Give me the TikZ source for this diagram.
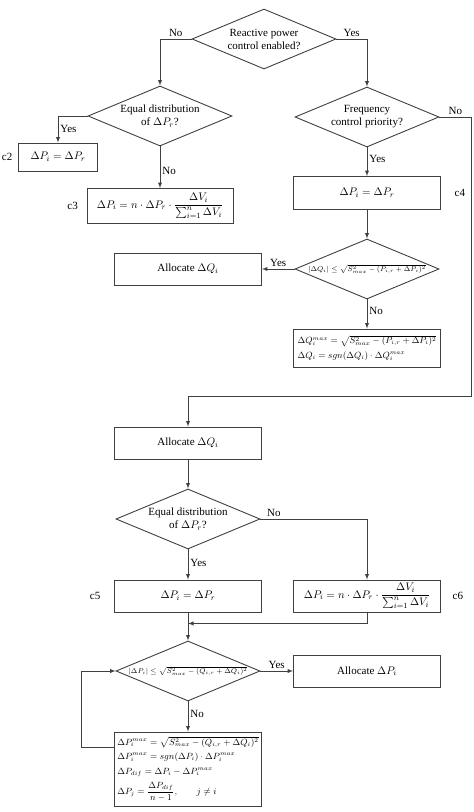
\documentclass[tikz,border=0pt]{standalone}
\usepackage{amsmath}
\usepackage{fontspec}
\setmainfont{Liberation Serif}
\usetikzlibrary{shapes.geometric,positioning}

\tikzset{
  decision/.style={draw=black!75, diamond, aspect=2.4, inner sep=0pt,
    minimum width=144pt, minimum height=60pt, align=center},
  block/.style={draw=black!75, rectangle, minimum width=147pt,
    minimum height=32pt, inner sep=2pt},
  formula/.style={block, align=left, inner sep=1.5pt, font=\fontsize{9}{11.5}\selectfont},
  flow/.style={draw=black!75, -latex},
  lab/.style={inner sep=2pt},
}

\begin{document}
\begin{tikzpicture}[on grid, line width=0.9pt, font=\fontsize{11}{13}\selectfont,
    label distance=10pt]
\useasboundingbox (0,0) rectangle (474pt,-812pt);
% upper part
\node[decision] (react) at (264pt,-39pt) {Reactive power\\control enabled?};
\node[decision, below left=77pt and 104pt of react] (eqdistA) {Equal distribution\\of $\Delta P_r$?};
\node[decision, below right=78pt and 103pt of react] (freq) {Frequency\\control priority?};
\node[block, minimum width=79pt, minimum height=28pt, below left=41pt and 102pt of eqdistA,
  label={[label distance=2pt]left:c2}] (ctwo) {$\Delta P_i = \Delta P_r$};
\node[block, minimum width=146pt, minimum height=35pt, below=90pt of eqdistA,
  label={[label distance=5pt]left:c3}] (cthree) {$\Delta P_i = n\cdot\Delta P_r\cdot\dfrac{\Delta V_i}{\sum_{i=1}^{n}\Delta V_i}$};
\node[block, minimum height=33pt, below=76pt of freq, label=right:c4] (cfour) {$\Delta P_i = \Delta P_r$};
\node[decision, below=76pt of cfour, font=\fontsize{7}{8}\selectfont] (qcheck)
  {$|\Delta Q_i| \le \sqrt{S_{max}^2-(P_{i,r}+\Delta P_i)^2}$};
\node[block, left=179pt of qcheck] (allocQa) {Allocate $\Delta Q_i$};
\node[formula, minimum height=38pt, below=79pt of qcheck] (qmax)
  {$\Delta Q_i^{max} = \sqrt{S_{max}^2-(P_{i,r}+\Delta P_i)^2}$\\[3pt]
   $\Delta Q_i = sgn(\Delta Q_i)\cdot\Delta Q_i^{max}$};
% lower part
\node[block, below=174pt of allocQa] (allocQb) {Allocate $\Delta Q_i$};
\node[decision, below=76pt of allocQb] (eqdistB) {Equal distribution\\of $\Delta P_r$?};
\node[block, below=77pt of eqdistB, label=left:c5] (cfive) {$\Delta P_i = \Delta P_r$};
\node[block, right=179pt of cfive, label={[label distance=8pt]right:c6}] (csix)
  {$\Delta P_i = n\cdot\Delta P_r\cdot\dfrac{\Delta V_i}{\sum_{i=1}^{n}\Delta V_i}$};
\node[decision, below=75pt of cfive, font=\fontsize{7}{8}\selectfont] (pcheck)
  {$|\Delta P_i| \le \sqrt{S_{max}^2-(Q_{i,r}+\Delta Q_i)^2}$};
\node[block, right=179pt of pcheck] (allocP) {Allocate $\Delta P_i$};
\node[formula, minimum height=74pt, below=98pt of pcheck] (pmax)
  {$\Delta P_i^{max} = \sqrt{S_{max}^2-(Q_{i,r}+\Delta Q_i)^2}$\\[3pt]
   $\Delta P_i^{max} = sgn(\Delta P_i)\cdot\Delta P_i^{max}$\\[3pt]
   $\Delta P_{dif} = \Delta P_i - \Delta P_i^{max}$\\[5pt]
   $\Delta P_j = \dfrac{\Delta P_{dif}}{n-1},\qquad j\neq i$};
% connectors
\draw[flow] (react.west) -| node[lab, pos=0.25, above] {No} (eqdistA.north);
\draw[flow] (react.east) -| node[lab, pos=0.25, above] {Yes} (freq.north);
\draw[flow] (eqdistA.west) -| node[lab, pos=0.75, right] {Yes} (ctwo.north);
\draw[flow] (eqdistA.south) -- node[lab, pos=0.6, right] {No} (cthree.north);
\draw[flow] (freq.south) -- node[lab, pos=0.4, right] {Yes} (cfour.north);
\draw[flow] (freq.east) -- node[lab, above] {No} ++(32pt,0)
  |- ([yshift=30pt]allocQb.north) -- (allocQb.north);
\draw[flow] (cfour.south) -- (qcheck.north);
\draw[flow] (qcheck.west) -- node[lab, above] {Yes} (allocQa.east);
\draw[flow] (qcheck.south) -- node[lab, pos=0.4, right] {No} (qmax.north);
\draw[flow] (allocQb.south) -- (eqdistB.north);
\draw[flow] (eqdistB.east) -| node[lab, pos=0.02, above right] {No} (csix.north);
\draw[flow] (eqdistB.south) -- node[lab, pos=0.45, right] {Yes} (cfive.north);
\draw[flow] (cfive.south) -- (pcheck.north);
\draw[flow] (csix.south) |- ([yshift=-11pt]cfive.south);
\draw[flow] (pcheck.east) -- node[lab, above] {Yes} (allocP.west);
\draw[flow] (pcheck.south) -- node[lab, pos=0.4, right] {No} (pmax.north);
\draw[flow] ([yshift=22pt]pmax.west) -- ++(-33pt,0) |- (pcheck.west);
\end{tikzpicture}
\end{document}
